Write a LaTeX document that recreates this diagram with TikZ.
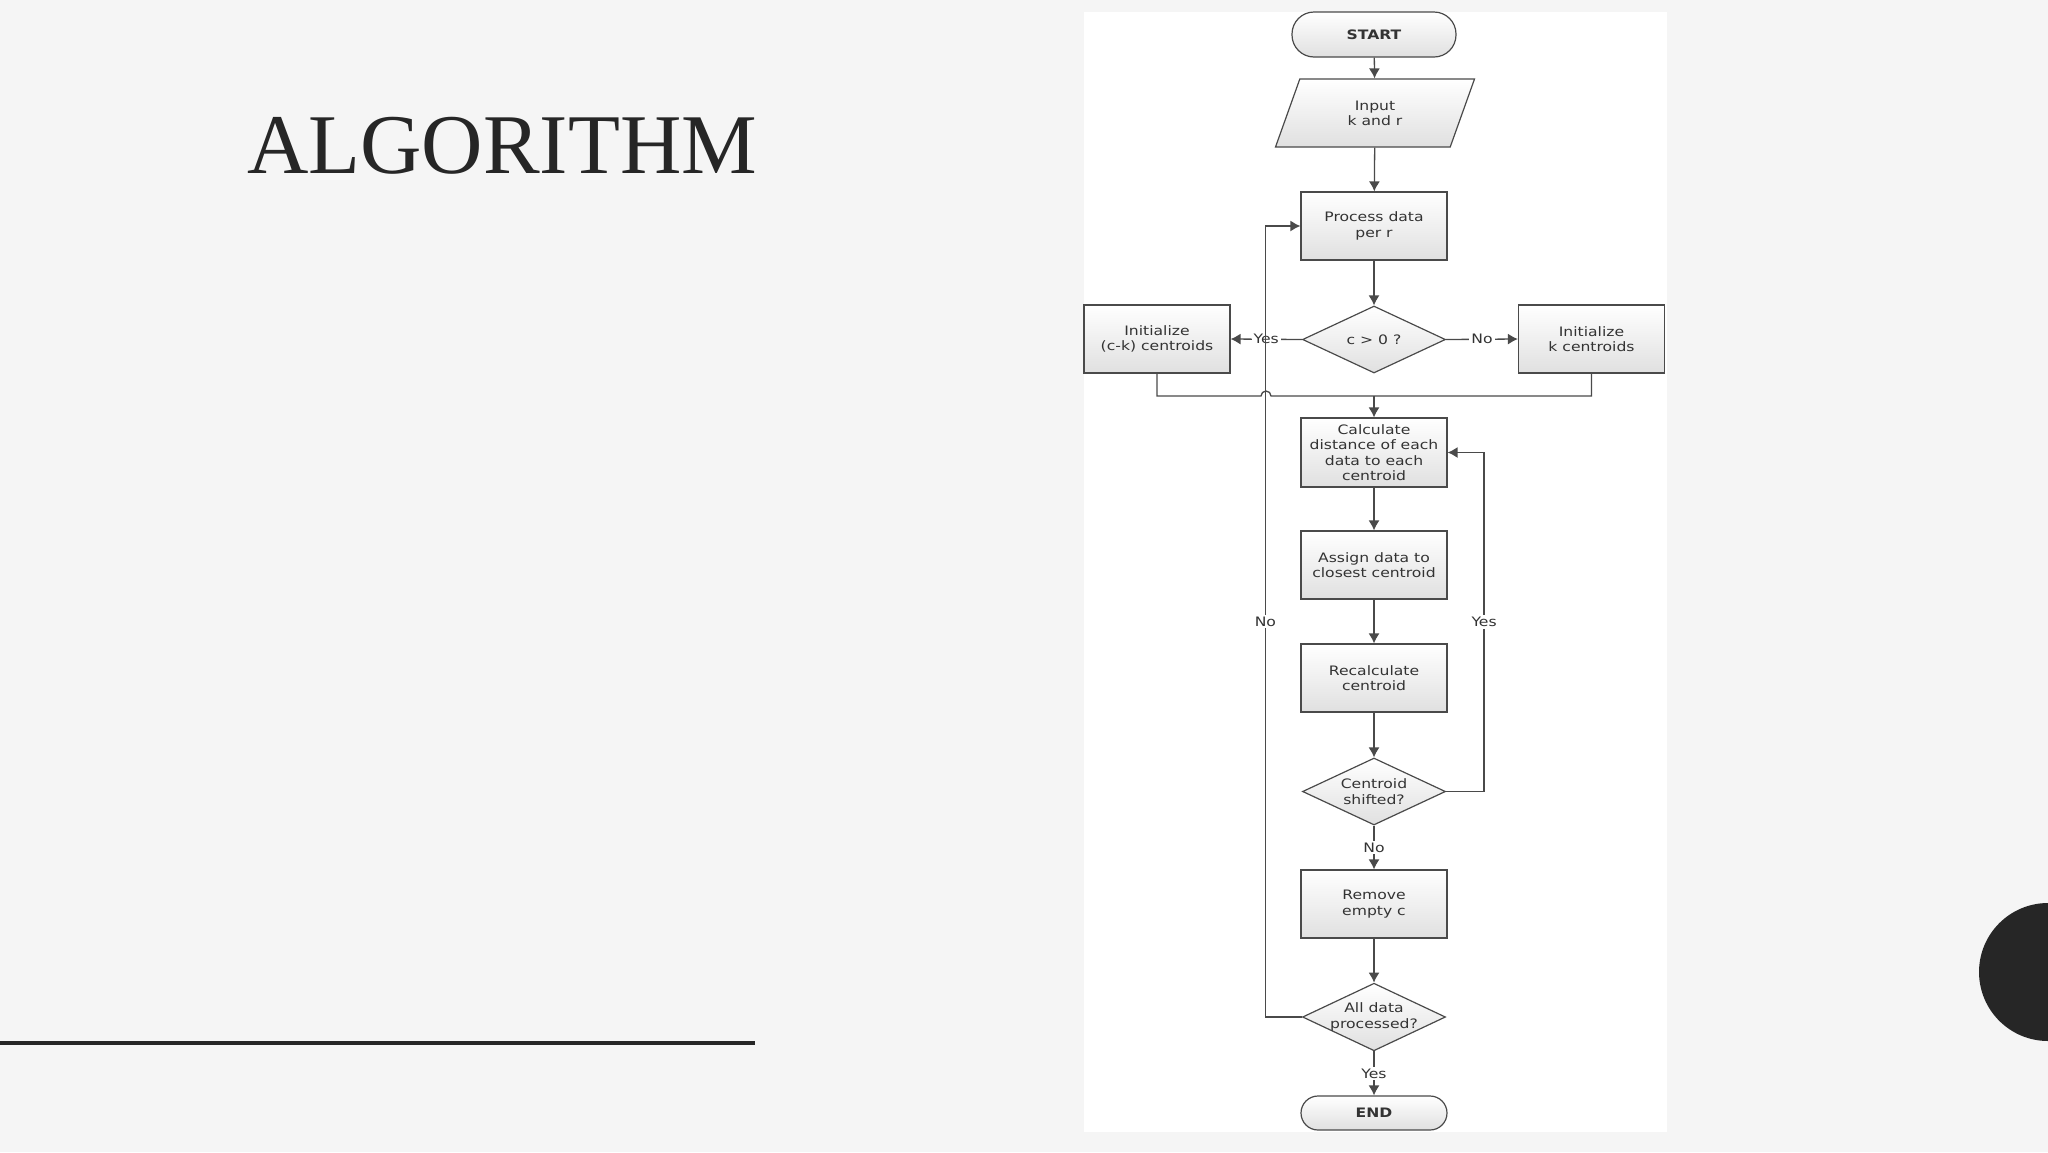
\documentclass[tikz,border=0pt]{standalone}
\usepackage{fontspec}
\setmainfont{Liberation Serif}
\newfontfamily\chartfont[FakeStretch=1.2]{DejaVu Sans}
\usetikzlibrary{shapes.geometric,arrows.meta}
\definecolor{slidebg}{HTML}{F5F5F5}
\definecolor{ink}{HTML}{262626}
\definecolor{edge}{HTML}{4A4A4A}
\definecolor{boxtext}{HTML}{333333}
\definecolor{boxlow}{HTML}{E0E0E0}
\begin{document}
\begin{tikzpicture}[x=1pt, y=-1pt, >=Latex,
    box/.style={draw=edge, line width=1.2pt, top color=white, bottom color=boxlow,
      text=boxtext, font=\chartfont\fontsize{13}{15.3}\selectfont, align=center,
      inner sep=2pt, minimum width=146pt, minimum height=68pt},
    terminal/.style={box, rounded corners=17pt, minimum height=34pt},
    decision/.style={box, diamond, inner sep=-12pt, minimum width=143pt, minimum height=67pt},
    inout/.style={box, trapezium, trapezium left angle=50, trapezium right angle=130,
      trapezium stretches body, minimum width=199pt, minimum height=68pt},
    line/.style={draw=edge, line width=1.3pt},
    flow/.style={line, -{Latex[length=10pt,width=11pt]}},
    lbl/.style={fill=white, text=boxtext, inner sep=2pt,
      font=\chartfont\fontsize{13}{15.3}\selectfont}]
	% slide
	\useasboundingbox (0,0) rectangle (2048,1152);
	\fill[slidebg] (0,0) rectangle (2048,1152);
	\node[anchor=base west, inner sep=0pt, text=ink, font=\fontsize{85}{90}\selectfont] (title) at (247,173) {ALGORITHM};
	\draw[ink, line width=4.5pt] (0,1043) -- (755,1043);
	\fill[ink] (2048,972) circle[radius=69pt];
	\fill[white] (1084,12) rectangle (1667,1132);
	% flowchart
	\node[terminal, rounded corners=22pt, minimum width=164pt, minimum height=45pt] (start) at (1374,34.5) {\bfseries START};
	\node[inout] (input) at (1375,113) {Input\\k and r};
	\node[box] (process) at (1374,226) {Process data\\per r};
	\node[decision] (cond) at (1374,339.5) {c > 0 ?};
	\node[box] (initck) at (1157,339) {Initialize\\(c-k) centroids};
	\node[box] (initk) at (1591.5,339) {Initialize\\k centroids};
	\coordinate (merge) at (1374,396);
	\node[box, minimum height=69pt] (calc) at (1374,452.5) {Calculate\\distance of each\\data to each\\centroid};
	\node[box] (assign) at (1374,565) {Assign data to\\closest centroid};
	\node[box] (recalc) at (1374,678) {Recalculate\\centroid};
	\node[decision] (shifted) at (1374,791.5) {Centroid\\shifted?};
	\node[box] (remove) at (1374,904) {Remove\\empty c};
	\node[decision, minimum height=66pt] (alldone) at (1374,1017) {All data\\processed?};
	\node[terminal, minimum width=146pt] (stop) at (1374,1113) {\bfseries END};
	\draw[flow] (start) -- (input);
	\draw[flow] (input) -- (process);
	\draw[flow] (process) -- (cond);
	\draw[flow] (cond.west) -- node[lbl] {Yes} (initck.east);
	\draw[flow] (cond.east) -- node[lbl] {No} (initk.west);
	\draw[line] (initck.south) |- (1261,396) arc[start angle=180, end angle=0, radius=5pt] -| (initk.south);
	\draw[flow] (merge) -- (calc.north);
	\draw[flow] (calc) -- (assign);
	\draw[flow] (assign) -- (recalc);
	\draw[flow] (recalc) -- (shifted);
	\draw[flow] (shifted.east) -- ++(38,0) |- node[lbl, pos=0.25] {Yes} (calc.east);
	\draw[flow] (shifted.south) -- node[lbl] {No} (remove.north);
	\draw[flow] (remove) -- (alldone);
	\draw[flow] (alldone.south) -- node[lbl] {Yes} (stop.north);
	\draw[flow] (alldone.west) -- ++(-36.5,0) |- node[lbl, pos=0.25] {No} (process.west);
\end{tikzpicture}
\end{document}
